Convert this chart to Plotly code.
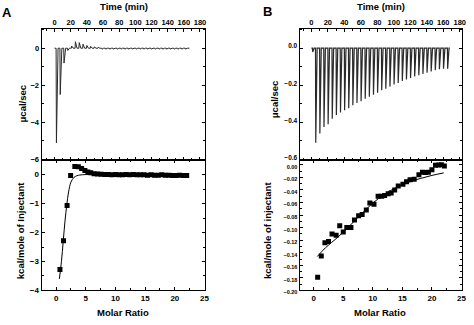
import plotly.graph_objects as go

# ---------------- Panel A data ----------------
a_inj_time = [2.0, 6.7, 11.4, 16.1, 20.8, 25.5, 30.2, 34.9, 39.6, 44.3, 49.0, 53.7,
              58.4, 63.1, 67.8, 72.5, 77.2, 81.9, 86.6, 91.3, 96.0, 100.7, 105.4,
              110.1, 114.8, 119.5, 124.2, 128.9, 133.6, 138.3, 143.0, 147.7, 152.4,
              157.1, 161.8]
a_peak = [-5.1, -2.5, -0.8, -0.12, 0.12, 0.35, 0.3, 0.22, 0.15, 0.1, 0.07, 0.05,
          -0.05, -0.05, -0.05, -0.05, -0.05, -0.05, -0.05, -0.05, -0.05, -0.05, -0.05,
          -0.05, -0.05, -0.05, -0.05, -0.05, -0.05, -0.05, -0.05, -0.05, -0.05,
          -0.05, -0.05]
a_ratio = [0.65, 1.25, 1.85, 2.45, 3.15, 3.75, 4.3, 4.85, 5.35, 5.85, 6.4, 7.0, 7.6,
           8.2, 8.8, 9.4, 10.0, 10.6, 11.2, 11.8, 12.4, 13.0, 13.6, 14.2, 14.8, 15.4,
           16.0, 16.6, 17.2, 17.8, 18.4, 19.0, 19.6, 20.2, 20.8, 21.4, 22.0]
a_heat = [-3.28, -2.28, -1.07, -0.03, 0.28, 0.27, 0.21, 0.14, 0.09, 0.06, 0.03, 0.02,
          0.01, 0.0, 0.0, -0.01, 0.0, -0.01, -0.01, 0.0, -0.01, 0.0, -0.01, -0.01,
          -0.01, -0.02, -0.01, -0.02, -0.02, -0.01, -0.02, -0.02, -0.03, -0.03, -0.02,
          -0.03, -0.03]
a_fit_x = [0.55, 0.9, 1.2, 1.5, 1.8, 2.1, 2.5, 3.0, 3.5, 4.0, 5.0, 6.0, 8.0, 22.0]
a_fit_y = [-3.6, -3.0, -2.3, -1.6, -1.05, -0.6, -0.26, -0.1, -0.04, -0.015, 0.0, 0.0, 0.0, 0.0]

# ---------------- Panel B data ----------------
b_inj_time = [1.3, 5, 10, 15, 20, 25, 30, 35, 40, 45, 50, 55, 60, 65, 70, 75, 80, 85, 90,
              95, 100, 105, 110, 115, 120, 125, 130, 135, 140, 145, 150, 155, 160, 165]
b_peak = [-0.02, -0.51, -0.46, -0.425, -0.41, -0.38, -0.36, -0.347, -0.335, -0.323,
          -0.307, -0.295, -0.286, -0.272, -0.262, -0.251, -0.24, -0.227, -0.218, -0.207,
          -0.195, -0.188, -0.177, -0.168, -0.16, -0.152, -0.146, -0.139, -0.132, -0.125,
          -0.118, -0.113, -0.11, -0.11]
b_ratio = [0.67, 1.28, 1.9, 2.5, 3.1, 3.8, 4.4, 5.0, 5.6, 6.3, 6.9, 7.6, 8.2, 8.9, 9.5,
           10.2, 10.9, 11.5, 12.0, 12.6, 13.1, 13.7, 14.3, 15.1, 15.7, 16.3, 17.0, 17.8,
           18.4, 18.9, 19.4, 20.0, 20.6, 21.1, 21.6, 22.1]
b_heat = [-0.179, -0.145, -0.124, -0.122, -0.110, -0.112, -0.097, -0.107, -0.100,
          -0.100, -0.088, -0.081, -0.079, -0.072, -0.061, -0.063, -0.050, -0.050, -0.049,
          -0.046, -0.045, -0.040, -0.034, -0.031, -0.027, -0.024, -0.023, -0.016, -0.012,
          -0.0125, -0.012, -0.008, -0.001, -0.0005, 0.0, -0.002]
b_fit_x = [0.6, 2, 4, 6, 8, 10, 12, 14, 16, 18, 20, 22]
b_fit_y = [-0.146, -0.132, -0.116, -0.098, -0.079, -0.061, -0.047, -0.036, -0.028,
           -0.022, -0.017, -0.013]

TIME_END_A = 167
TIME_END_B = 168


def thermogram(times, peaks, t_end, down, back):
    xs, ys = [0.0], [0.0]
    for t, h in zip(times, peaks):
        xs += [t, t + down, t + back]
        ys += [0.0, h, 0.0]
    xs.append(t_end)
    ys.append(0.0)
    return xs, ys


ax, ay = thermogram(a_inj_time, a_peak, TIME_END_A, 0.4, 2.4)
bx, by = thermogram(b_inj_time, b_peak, TIME_END_B, 0.3, 2.0)

fig = go.Figure()
fig.add_trace(go.Scatter(x=ax, y=ay, mode="lines", line=dict(color="#2a2a2a", width=1),
                         xaxis="x", yaxis="y"))
fig.add_trace(go.Scatter(x=a_fit_x, y=a_fit_y, mode="lines",
                         line=dict(color="black", width=1, shape="spline"),
                         xaxis="x2", yaxis="y2"))
fig.add_trace(go.Scatter(x=a_ratio, y=a_heat, mode="markers",
                         marker=dict(symbol="square", size=5, color="black"), xaxis="x2", yaxis="y2"))
fig.add_trace(go.Scatter(x=bx, y=by, mode="lines", line=dict(color="#2a2a2a", width=1.2),
                         xaxis="x3", yaxis="y3"))
fig.add_trace(go.Scatter(x=b_fit_x, y=b_fit_y, mode="lines",
                         line=dict(color="black", width=1, shape="spline"),
                         xaxis="x4", yaxis="y4"))
fig.add_trace(go.Scatter(x=b_ratio, y=b_heat, mode="markers",
                         marker=dict(symbol="square", size=5, color="black"), xaxis="x4", yaxis="y4"))

W, H = 474, 325


def px_x(p):
    return p / W


def px_y(p):
    return 1 - p / H


def tf(size):
    return dict(family="Liberation Sans", size=size, color="black", weight="bold")


common = dict(showline=True, linecolor="black", linewidth=1, mirror="ticks", ticks="inside",
              ticklen=3, tickcolor="black", tickwidth=1, showgrid=False, zeroline=False,
              fixedrange=True)

A_dom = [px_x(42), px_x(207)]
B_dom = [px_x(302.7), px_x(467)]
top_dom = [px_y(162), px_y(29)]
bot_dom = [px_y(295), px_y(162)]

fig.update_layout(
    width=W, height=H, margin=dict(l=0, r=0, t=0, b=0),
    paper_bgcolor="white", plot_bgcolor="white", showlegend=False,
    xaxis=dict(domain=A_dom, anchor="y", side="top", range=[-16, 186], tick0=0, dtick=20,
               tickfont=tf(7.5),
               minor=dict(ticks="inside", ticklen=2, dtick=10, tickcolor="black"), **common),
    yaxis=dict(domain=top_dom, anchor="x", range=[-6, 1.06], tick0=0, dtick=2,
               tickfont=tf(7.5),
               minor=dict(ticks="inside", ticklen=2, dtick=1, tickcolor="black"), **common),
    xaxis2=dict(domain=A_dom, anchor="y2", range=[-2.45, 25.05], tick0=0, dtick=5,
                tickfont=tf(8),
                minor=dict(ticks="inside", ticklen=2, dtick=2.5, tickcolor="black"), **common),
    yaxis2=dict(domain=bot_dom, anchor="x2", range=[-4, 0.52], tick0=0, dtick=1,
                tickfont=tf(8),
                minor=dict(ticks="inside", ticklen=2, dtick=0.5, tickcolor="black"), **common),
    xaxis3=dict(domain=B_dom, anchor="y3", side="top", range=[-14.4, 182.8], tick0=0, dtick=20,
                tickfont=tf(7.5),
                minor=dict(ticks="inside", ticklen=2, dtick=10, tickcolor="black"), **common),
    yaxis3=dict(domain=top_dom, anchor="x3", range=[-0.6, 0.106], tick0=0, dtick=0.2,
                tickformat=".1f", tickfont=tf(6.5), ticklabelshift=-2,
                minor=dict(ticks="inside", ticklen=2, dtick=0.1, tickcolor="black"), **common),
    xaxis4=dict(domain=B_dom, anchor="y4", range=[-2.4, 25.1], tick0=0, dtick=5,
                tickfont=tf(8),
                minor=dict(ticks="inside", ticklen=2, dtick=2.5, tickcolor="black"), **common),
    yaxis4=dict(domain=bot_dom, anchor="x4", range=[-0.2, 0.0083], tick0=0, dtick=0.02,
                tickformat=".2f", tickfont=tf(5.5), ticklabelshift=2,
                minor=dict(ticks="inside", ticklen=2, dtick=0.01, tickcolor="black"), **common),
)

title_font = dict(family="Liberation Sans", size=9.5, color="black", weight="bold")
letter_font = dict(family="Liberation Sans", size=13, color="black", weight="bold")
annots = [
    ("A", 6.7, 12.5, 0, letter_font),
    ("B", 270, 11.3, 0, letter_font),
    ("Time (min)", 125, 6.7, 0, title_font),
    ("Time (min)", 385, 6.5, 0, title_font),
    ("\u03bccal/sec", 22.6, 104.7, -90, title_font),
    ("\u03bccal/sec", 277.7, 101, -90, title_font),
    ("kcal/mole of Injectant", 21, 234, -90, title_font),
    ("kcal/mole of injectant", 270.5, 234, -90, title_font),
    ("Molar Ratio", 124.7, 317, 0, title_font),
    ("Molar Ratio", 384, 317, 0, title_font),
]
for text, x, y, ang, f in annots:
    fig.add_annotation(text=text, x=px_x(x), y=px_y(y), xref="paper", yref="paper",
                       xanchor="center", yanchor="middle", showarrow=False, textangle=ang,
                       font=f)

fig.write_html("out.html")
